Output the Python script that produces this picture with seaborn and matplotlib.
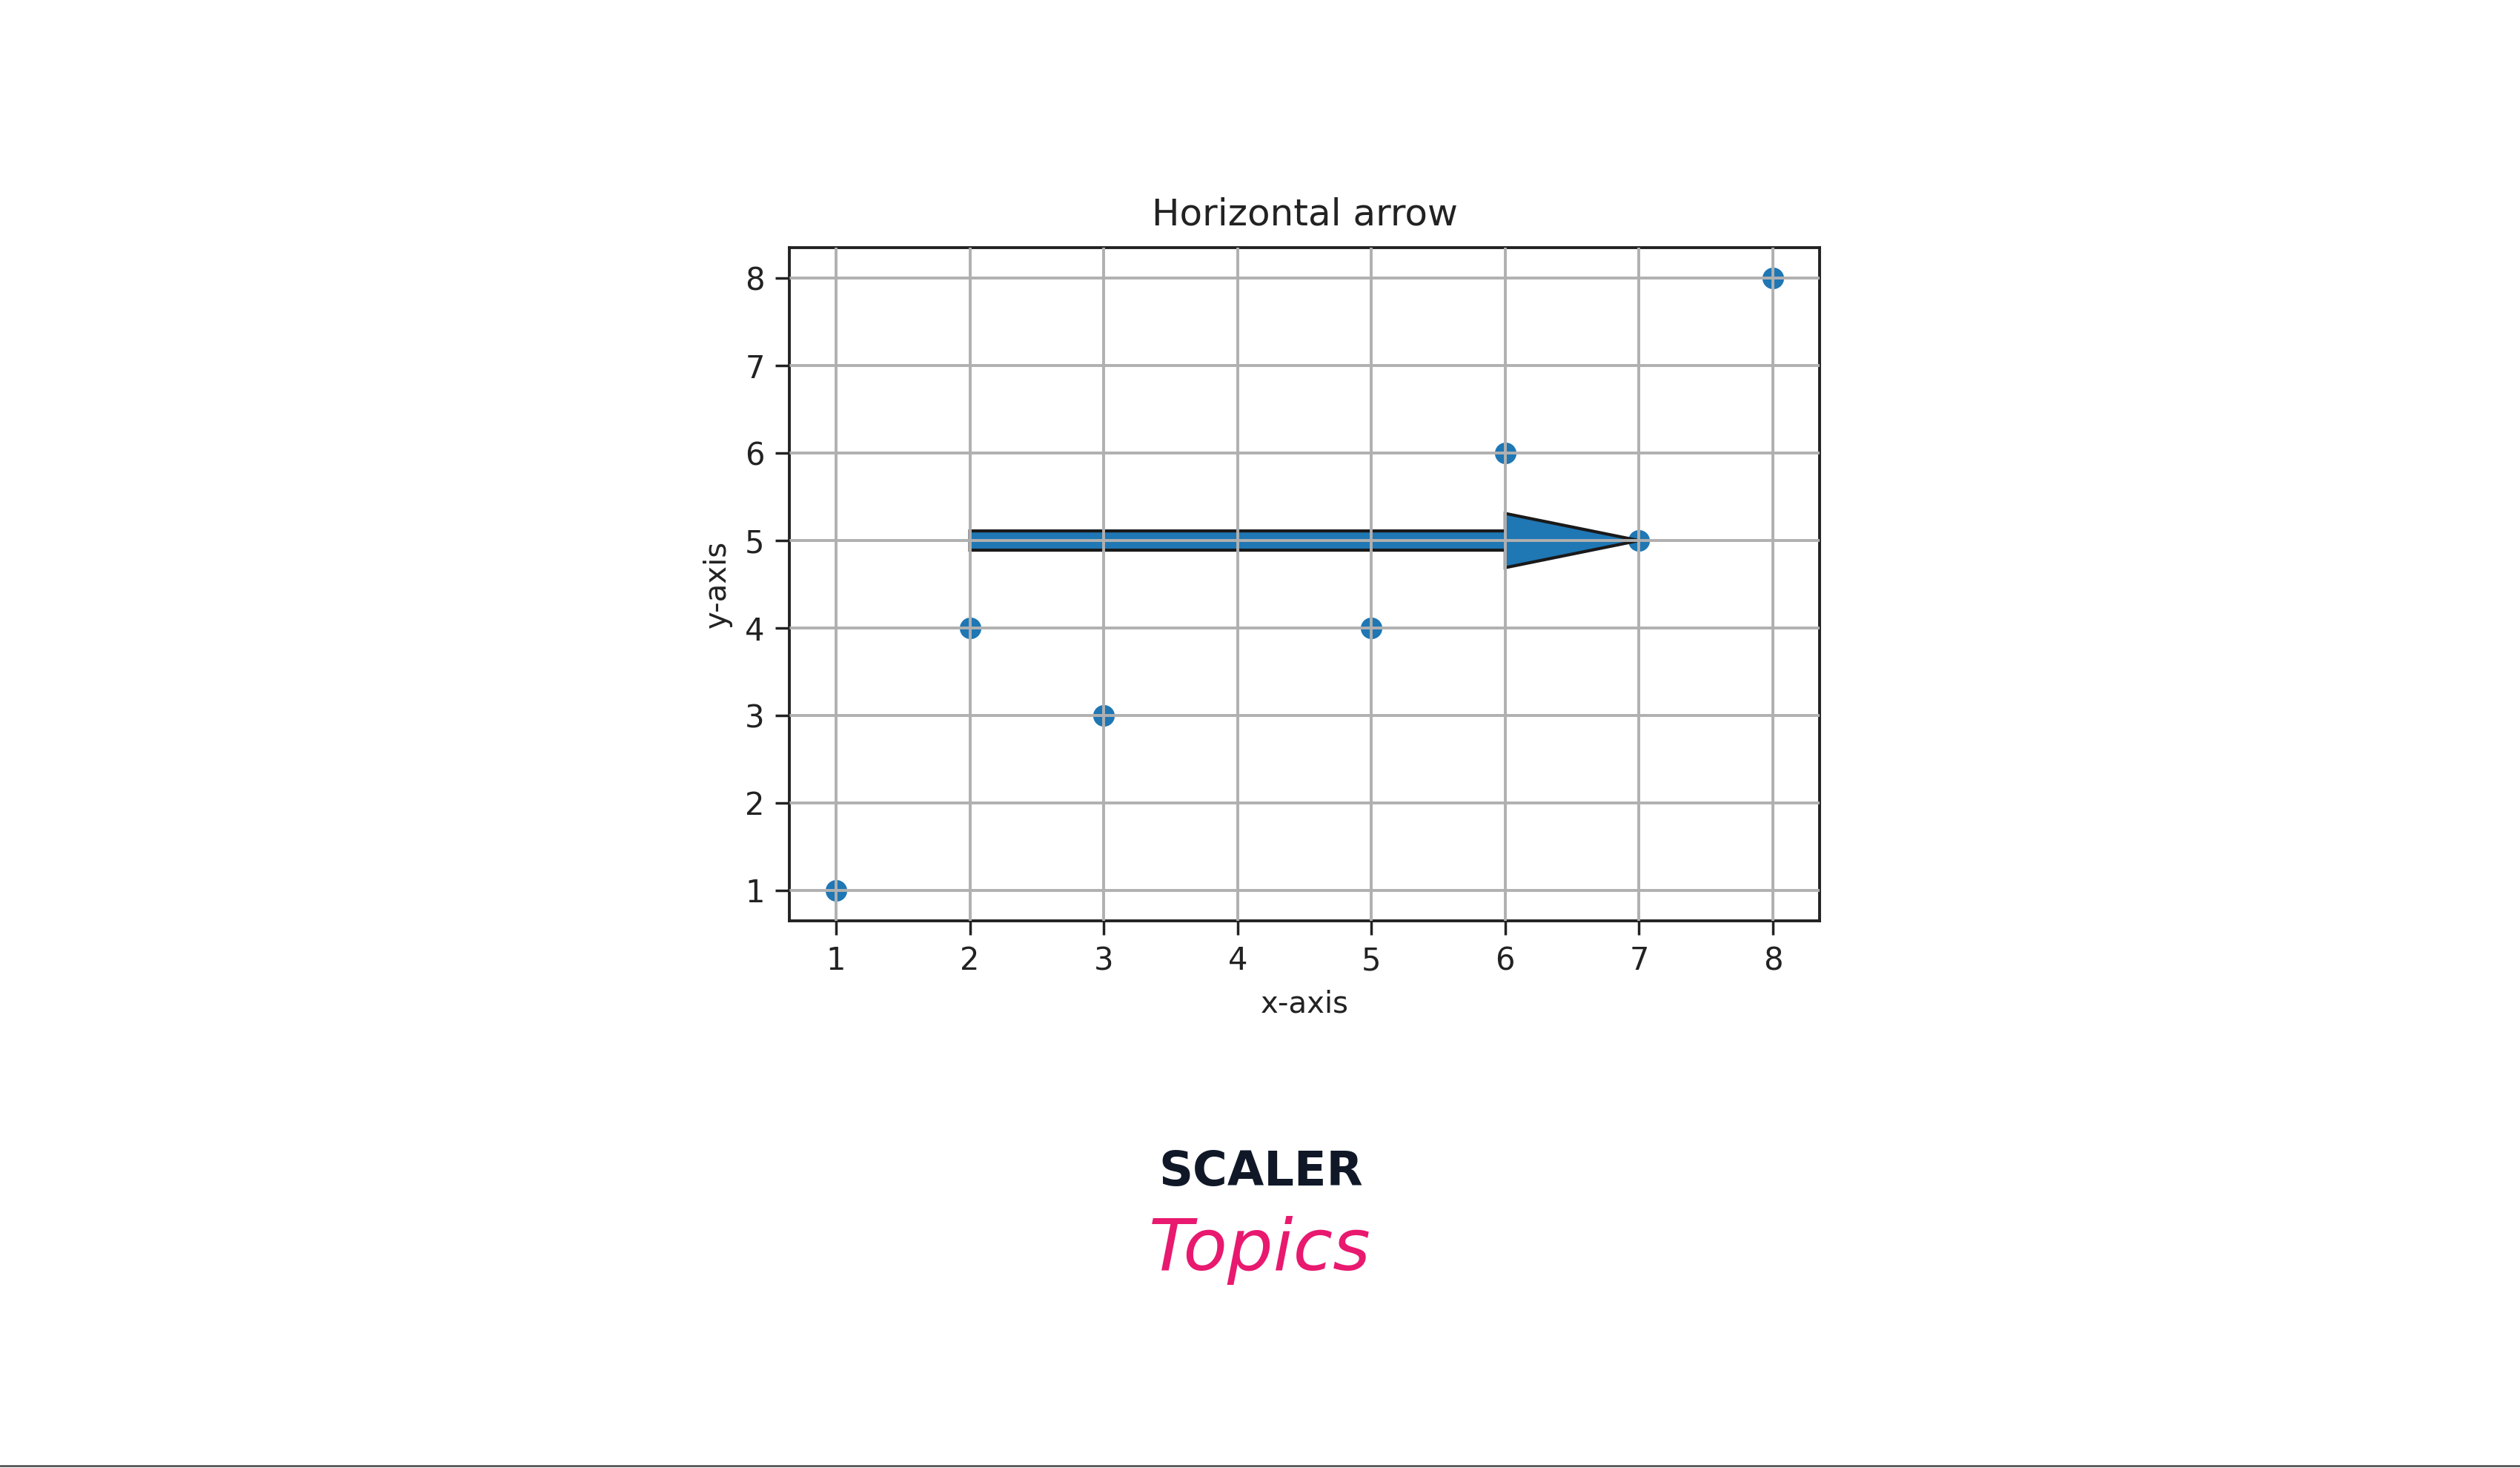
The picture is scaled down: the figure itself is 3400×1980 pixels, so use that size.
import numpy as np
import pandas as pd
import matplotlib
matplotlib.use("Agg")
import matplotlib.pyplot as plt
import seaborn as sns

# ── Data ──────────────────────────────────────────────────────────────
x_vals = [1, 2, 3, 4, 5, 6, 7, 8]
y_vals = [1, 4, 3, 5, 4, 6, 5, 8]
arrow_start = (2, 5)
arrow_delta = (4, 0)
x_ticks = [1, 2, 3, 4, 5, 6, 7, 8]
y_ticks = [1, 2, 3, 4, 5, 6, 7, 8]

df = pd.DataFrame({"x": x_vals, "y": y_vals})

sns.set_style("ticks")
plt.rcParams["font.family"] = ["DejaVu Sans"]

fig = plt.figure(figsize=(34, 19.8), dpi=100)
ax = fig.add_axes([0.3132, 0.3727, 0.4089, 0.4586])

sns.scatterplot(data=df, x="x", y="y", ax=ax, color="#1f77b4",
                s=440, linewidth=0, zorder=1)

ax.arrow(arrow_start[0], arrow_start[1], arrow_delta[0], arrow_delta[1],
         width=0.22, head_width=0.62, head_length=1.0,
         length_includes_head=False, fc="#1f77b4", ec="#1a1a1a", lw=3,
         zorder=1)

ax.set_xlim(0.65, 8.35)
ax.set_ylim(0.65, 8.35)
ax.set_xticks(x_ticks)
ax.set_yticks(y_ticks)

ax.set_axisbelow(False)
ax.grid(True, color="#b0b0b0", linewidth=2.8)
for sp in ax.spines.values():
    sp.set_visible(True)
    sp.set_linewidth(2.8)
    sp.set_color("#222222")

ax.tick_params(axis="both", labelsize=30, length=14, width=2.5,
               color="#222222", labelcolor="#222222", pad=10)

ax.set_title("Horizontal arrow", fontsize=36, color="#222222", pad=22)
ax.set_xlabel("x-axis", fontsize=29, color="#222222", labelpad=12)
ax.set_ylabel("y-axis", fontsize=29, color="#222222", labelpad=12)

# ── Logo text ─────────────────────────────────────────────────────────
fig.text(0.5005, 0.2015, "SCALER", ha="center", va="center",
         fontsize=46, fontweight="bold", color="#101828")
fig.text(0.500, 0.148, "Topics", ha="center", va="center",
         fontsize=70, fontstyle="italic", color="#e8196f")

# bottom rule
fig.add_artist(plt.Line2D([0, 1], [0.0015, 0.0015], color="#555555",
                          linewidth=2, transform=fig.transFigure))

fig.savefig("out.png", dpi=100, facecolor="white")
